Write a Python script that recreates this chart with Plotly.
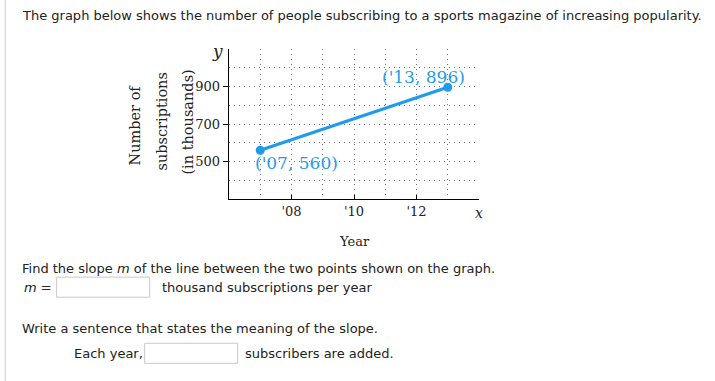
import plotly.graph_objects as go

# ---- data ----
years = [2007, 2013]
subscriptions = [560, 896]
point_labels = ["('07, 560)", "('13, 896)"]
x_tick_vals = [2008, 2010, 2012]
x_tick_text = ["'08", "'10", "'12"]
y_tick_vals = [500, 700, 900]
y_tick_text = ["500", "700", "900"]

W, H = 715, 381
L, R, T, B = 229.3, 479.3, 49.3, 199.0
BLUE = "#1E9CEB"
SERIF = "DejaVu Serif"
SANS = "DejaVu Sans"
TXT = "#222222"


def px(x):
    return (x - L) / (R - L)


def py(y):
    return (B - y) / (B - T)


fig = go.Figure()
fig.add_trace(go.Scatter(
    x=years, y=subscriptions, mode="lines+markers",
    line=dict(color=BLUE, width=3), marker=dict(color=BLUE, size=9),
    hoverinfo="skip", showlegend=False, cliponaxis=False))

grid = dict(showgrid=True, gridcolor="#777777", griddash="1px,4px", gridwidth=1)
fig.update_xaxes(range=[2006, 2014], tickvals=x_tick_vals, ticktext=x_tick_text,
                 ticks="inside", ticklen=4, tickcolor="black",
                 showline=True, linecolor="black", linewidth=1.3,
                 tickfont=dict(family=SERIF, size=13, color=TXT),
                 zeroline=False, minor=dict(dtick=1, tick0=2006, ticks="", **grid),
                 fixedrange=True, **grid)
fig.update_yaxes(range=[300, 1100], tickvals=y_tick_vals, ticktext=y_tick_text,
                 ticks="outside", ticklen=5, tickcolor="black",
                 showline=True, linecolor="black", linewidth=1.3,
                 tickfont=dict(family=SERIF, size=13, color=TXT),
                 zeroline=False, minor=dict(dtick=100, tick0=300, ticks="", **grid),
                 fixedrange=True, **grid)

ann = []


def text(x, y, s, size=13, family=SANS, color=TXT, xanchor="left", angle=0):
    ann.append(dict(x=px(x), y=py(y), xref="paper", yref="paper", text=s,
                    showarrow=False, xanchor=xanchor, yanchor="middle",
                    font=dict(family=family, size=size, color=color),
                    textangle=angle))


# point labels
text(297, 163, point_labels[0], size=17, family=SERIF, color=BLUE, xanchor="center")
text(424, 77, point_labels[1], size=17, family=SERIF, color=BLUE, xanchor="center")
# axis labels
text(218, 51, "<i>y</i>", size=17, family=SERIF, xanchor="center")
text(479, 213, "<i>x</i>", size=14, family=SERIF, xanchor="center")
text(355, 241, "Year", size=13, family=SERIF, xanchor="center")
text(135, 125, "Number of", size=14.5, family=SERIF, xanchor="center", angle=-90)
text(162, 122, "subscriptions", size=14.5, family=SERIF, xanchor="center", angle=-90)
text(188, 122, "(in thousands)", size=14.5, family=SERIF, xanchor="center", angle=-90)
# page text
text(20, 16, "The graph below shows the number of people subscribing to a sports magazine of increasing popularity.")
text(20, 268, "Find the slope <i>m</i> of the line between the two points shown on the graph.")
text(22, 287, "<i>m</i> =")
text(160, 287, "thousand subscriptions per year")
text(20, 328, "Write a sentence that states the meaning of the slope.")
text(72, 353, "Each year,")
text(243, 353, "subscribers are added.")

shapes = [
    dict(type="line", xref="paper", yref="paper", x0=px(5.5), x1=px(5.5), y0=py(0), y1=py(381),
         line=dict(color="#cccccc", width=1)),
    dict(type="rect", xref="paper", yref="paper", x0=px(57), x1=px(150), y0=py(277), y1=py(297),
         line=dict(color="#c8c8c8", width=1), fillcolor="white"),
    dict(type="rect", xref="paper", yref="paper", x0=px(145), x1=px(238), y0=py(343), y1=py(363),
         line=dict(color="#c8c8c8", width=1), fillcolor="white"),
]

fig.update_layout(width=W, height=H, paper_bgcolor="white", plot_bgcolor="white",
                  margin=dict(l=L, r=W - R, t=T, b=H - B, pad=0),
                  annotations=ann, shapes=shapes, showlegend=False)
fig.write_html("out.html", config={"displayModeBar": False, "staticPlot": True},
               post_script="document.body.style.margin='0';document.body.style.overflow='hidden';")
